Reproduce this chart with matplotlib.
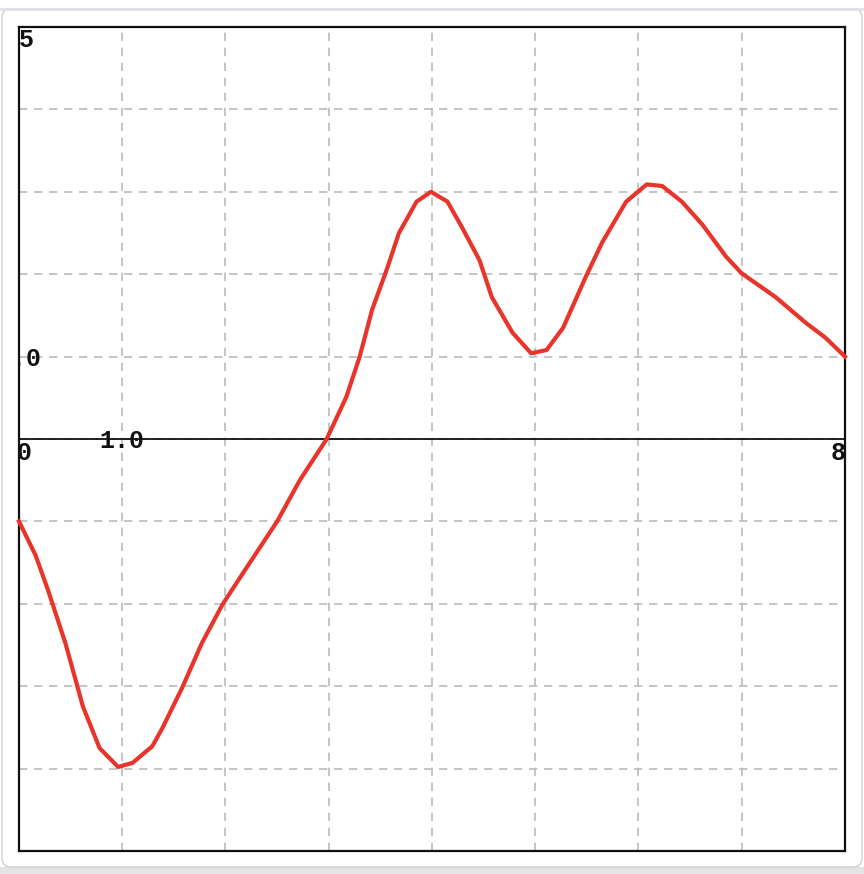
import matplotlib
matplotlib.use("Agg")
import matplotlib.pyplot as plt
from matplotlib.patches import FancyBboxPatch, Rectangle
from matplotlib.lines import Line2D

# curve values
xs = [0, 0.16, 0.28, 0.45, 0.62, 0.78, 0.96, 1.10, 1.29, 1.38, 1.58, 1.77, 1.97,
      2.21, 2.50, 2.72, 2.98, 3.17, 3.30, 3.42, 3.56, 3.68, 3.85, 3.99, 4.15,
      4.29, 4.46, 4.58, 4.78, 4.96, 5.11, 5.27, 5.49, 5.65, 5.88, 6.08, 6.23,
      6.42, 6.62, 6.85, 7.00, 7.33, 7.62, 7.81, 8.00]
ys = [-1.0, -1.41, -1.83, -2.48, -3.25, -3.75, -3.98, -3.93, -3.73, -3.53, -3.02,
      -2.48, -2.01, -1.55, -1.0, -0.5, 0.0, 0.51, 1.0, 1.57, 2.05, 2.50, 2.88,
      3.0, 2.88, 2.57, 2.17, 1.72, 1.29, 1.04, 1.08, 1.35, 1.97, 2.39, 2.88,
      3.09, 3.07, 2.88, 2.60, 2.21, 2.01, 1.72, 1.41, 1.23, 1.0]

x_min, x_max = 0, 8
y_min, y_max = -5, 5
x_labels = [(0.05, "0"), (1.0, "1.0"), (7.93, "8")]
y_labels = [(4.84, "5"), (0.97, "1.0")]

W, H = 864, 874
fig = plt.figure(figsize=(W / 100, H / 100), dpi=100)
fig.patch.set_facecolor("white")

# window-ish frame around the chart
fig.patches.append(Rectangle((0, 0), 1, 7 / H, transform=fig.transFigure,
                             facecolor="#e4e4e4", edgecolor="none", zorder=-3))
fig.patches.append(FancyBboxPatch((2 / W, 7 / H), (W - 4) / W, (H - 16) / H,
                                  boxstyle="round,pad=0,rounding_size=0.01",
                                  transform=fig.transFigure, facecolor="white",
                                  edgecolor="#cfcfcf", linewidth=1, zorder=-2))
fig.lines.append(Line2D([0, 1], [1 - 8.5 / H] * 2, transform=fig.transFigure,
                        color="#e0e0e6", linewidth=2))

ax = fig.add_axes([19 / W, 23 / H, 826 / W, 824 / H])
ax.set_xlim(x_min, x_max)
ax.set_ylim(y_min, y_max)
ax.set_xticks(range(x_min, x_max + 1))
ax.set_yticks(range(y_min, y_max + 1))
ax.tick_params(length=0, labelbottom=False, labelleft=False)
ax.grid(True, color="#bbbbbb", linewidth=1.2, linestyle=(0, (5, 4)))
ax.set_axisbelow(True)
for s in ax.spines.values():
    s.set_linewidth(1.6)
    s.set_color("#111111")

ax.axhline(0, color="#111111", linewidth=1.3, zorder=2)
ax.plot(xs, ys, color="#e8342a", linewidth=3.0, zorder=3, clip_on=False)

# labels sit at the edges and get clipped by the plot box, as in the original
font = dict(family="Liberation Mono", fontweight="bold", fontsize=18,
            color="#111111", clip_on=True, zorder=4)
for xv, t in x_labels:
    ax.text(xv, -0.03 if t == "1.0" else -0.17, t, ha="center", va="center", **font)
for yv, t in y_labels:
    if t == "5":
        ax.text(0.07, yv, t, ha="center", va="center", **font)
    else:
        ax.text(0.22, yv, t, ha="right", va="center", **font)

fig.savefig("out.png", dpi=100)
